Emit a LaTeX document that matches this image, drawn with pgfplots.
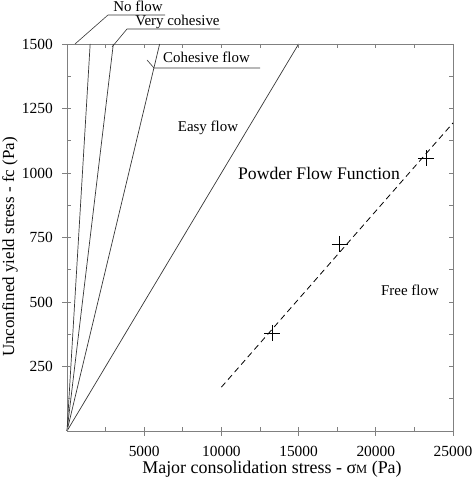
\documentclass[border=0pt]{standalone}
\usepackage{fontspec}
\setmainfont{Liberation Serif}
\usepackage{pgfplots}
\pgfplotsset{compat=1.18}
\definecolor{axgray}{RGB}{128,128,128}
\definecolor{lngray}{RGB}{55,55,55}
\begin{document}
\begin{tikzpicture}[x=1bp,y=1bp]
\path[use as bounding box] (0,0) rectangle (474,482);
\begin{axis}[
  at={(67bp,51bp)}, anchor=south west,
  scale only axis, width=386bp, height=387bp,
  xmin=0, xmax=25000, ymin=0, ymax=1500,
  xtick={5000,10000,15000,20000,25000},
  ytick={250,500,750,1000,1250,1500},
  xtick pos=left, ytick pos=left, tick align=outside,
  major tick length=5bp,
  scaled ticks=false,
  /pgf/number format/assume math mode=true,
  /pgf/number format/1000 sep={},
  xticklabel style={font=\fontsize{15.5}{18}\selectfont, inner sep=0pt, yshift=-10bp},
  yticklabel style={font=\fontsize{15.5}{18}\selectfont, inner sep=0pt, xshift=-9bp},
  axis line style={axgray, line width=0.8bp},
  every tick/.style={axgray, line width=0.8bp},
  clip=false,
]
\addplot[lngray, line width=0.7bp] coordinates {(0,0) (1500,1500)};
\addplot[lngray, line width=0.7bp] coordinates {(0,0) (3000,1500)};
\addplot[lngray, line width=0.7bp] coordinates {(0,0) (6000,1500)};
\addplot[lngray, line width=0.7bp] coordinates {(0,0) (15000,1500)};
\addplot[black, line width=0.8bp, dash pattern=on 6bp off 4bp] coordinates {(10000,170) (25000,1194)};
\addplot[only marks, mark=+, mark size=8bp, mark options={black, line width=0.7bp}] coordinates {(13300,380) (17660,725) (23250,1058)};
\end{axis}
\begin{axis}[
  at={(67bp,51bp)}, anchor=south west,
  scale only axis, width=386bp, height=387bp,
  xmin=0, xmax=25000, ymin=0, ymax=1500,
  xtick={0,2500,...,25000}, ytick={0,125,...,1500},
  scaled ticks=false,
  xticklabels={}, yticklabels={},
  xtick pos=both, ytick pos=both, tick align=inside,
  major tick length=4bp,
  axis line style={draw=none},
  every tick/.style={axgray, line width=0.8bp},
]
\end{axis}
% annotations
\begin{scope}[font=\fontsize{15}{18}\selectfont]
\node[anchor=base] at (138,470) {No flow};
\draw[lngray, line width=0.6bp] (75,438) -- (108,467) -- (165,467);
\node[anchor=base] at (177.5,456) {Very cohesive};
\draw[lngray, line width=0.6bp] (112,435) -- (127,453) -- (220,453);
\node[anchor=base] at (206.5,419) {Cohesive flow};
\draw[lngray, line width=0.6bp] (147,422) -- (154,414) -- (260,414);
\node[anchor=base] at (208,350) {Easy flow};
\node[anchor=base] at (410,186) {Free flow};
\end{scope}
\node[anchor=base, inner sep=0pt, font=\fontsize{18}{20}\selectfont] at (272,8) {Major consolidation stress - σ{\fontsize{12.5}{12}\selectfont M} (Pa)};
\node[anchor=base, font=\fontsize{17.7}{20}\selectfont] at (319,302) {Powder Flow Function};
\node[rotate=90, anchor=base, font=\fontsize{17}{20}\selectfont] at (14,235) {Unconfined yield stress - fc (Pa)};
\end{tikzpicture}
\end{document}
